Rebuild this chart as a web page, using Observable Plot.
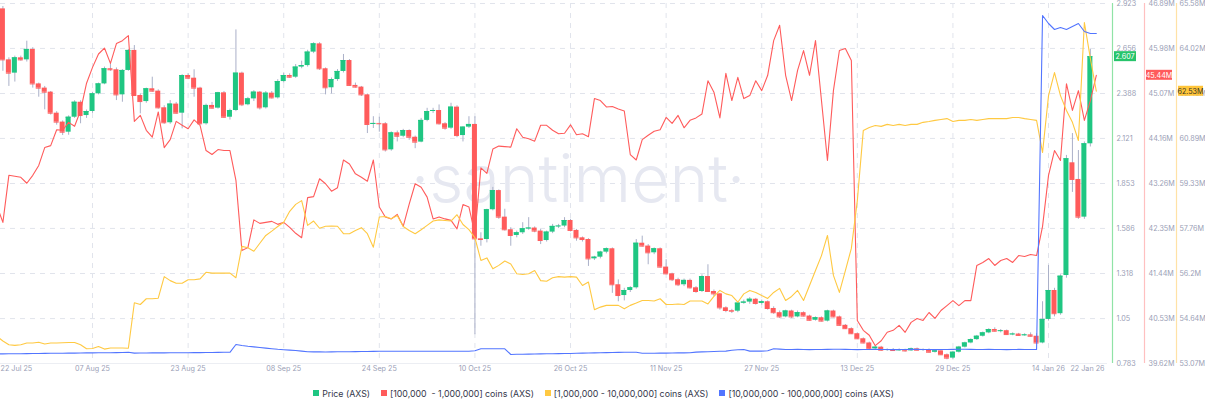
<!DOCTYPE html>
<html><head><meta charset="utf-8">
<script src="https://cdn.jsdelivr.net/npm/d3@7"></script>
<script src="https://cdn.jsdelivr.net/npm/@observablehq/plot@0.6"></script>
<style>
html,body{margin:0;padding:0;background:#fff;}
body{width:1205px;height:406px;overflow:hidden;font-family:Inter,"Noto Sans",sans-serif;}
#chart svg{display:block}
#legend{display:flex;justify-content:center;align-items:center;height:26px;font-size:8.8px;color:#34374a;padding-left:2px}
#legend .it{display:flex;align-items:center;margin:0 5.5px}
#legend .sw{display:inline-block;width:6px;height:6px;margin-right:3px}
</style></head><body>
<div id="chart"></div>
<div id="legend"></div>
<script>
// ---- data ----
const candleStartDate = "2025-07-23";   // first daily candle
const lineStartDate = "2025-07-22";     // first daily holder value

const open = [2.891,2.588,2.509,2.600,2.588,2.650,2.445,2.420,2.396,2.271,
2.218,2.158,2.247,2.336,2.257,2.281,2.386,2.445,2.535,2.529,
2.380,2.525,2.644,2.376,2.340,2.416,2.402,2.303,2.214,2.325,
2.271,2.495,2.479,2.420,2.208,2.317,2.301,2.392,2.247,2.287,
2.509,2.321,2.356,2.396,2.303,2.390,2.362,2.459,2.495,2.485,
2.545,2.554,2.634,2.683,2.535,2.422,2.471,2.519,2.584,2.436,
2.426,2.380,2.204,2.210,2.208,2.053,2.154,2.134,2.168,2.128,
2.099,2.228,2.281,2.287,2.208,2.182,2.307,2.138,2.188,2.204,
1.524,1.520,1.697,1.811,1.653,1.578,1.544,1.560,1.584,1.588,
1.570,1.514,1.564,1.598,1.600,1.633,1.574,1.530,1.520,1.405,
1.415,1.445,1.465,1.251,1.187,1.217,1.233,1.498,1.481,1.441,
1.465,1.356,1.316,1.281,1.251,1.277,1.233,1.211,1.300,1.211,
1.197,1.114,1.098,1.094,1.142,1.148,1.165,1.140,1.150,1.110,
1.085,1.060,1.095,1.060,1.085,1.065,1.040,1.055,1.035,1.095,
1.060,1.010,0.990,0.960,0.930,0.905,0.870,0.880,0.862,0.866,
0.860,0.864,0.858,0.870,0.862,0.866,0.850,0.858,0.835,0.815,
0.850,0.880,0.905,0.925,0.945,0.965,0.985,0.975,0.978,0.955,
0.958,0.950,0.953,0.945,0.905,1.045,1.217,1.079,1.306,1.976,
1.877,1.653,2.089];
const close = [2.588,2.509,2.600,2.588,2.650,2.445,2.420,2.396,2.271,2.218,
2.158,2.247,2.336,2.257,2.281,2.386,2.445,2.535,2.529,2.380,
2.525,2.644,2.376,2.340,2.416,2.402,2.303,2.214,2.325,2.271,
2.495,2.479,2.420,2.208,2.317,2.301,2.392,2.247,2.287,2.509,
2.321,2.356,2.396,2.303,2.390,2.362,2.459,2.495,2.485,2.545,
2.554,2.634,2.683,2.535,2.422,2.471,2.519,2.584,2.436,2.426,
2.380,2.204,2.210,2.208,2.053,2.154,2.134,2.168,2.128,2.099,
2.228,2.281,2.287,2.208,2.182,2.307,2.138,2.188,2.204,1.524,
1.520,1.697,1.811,1.653,1.578,1.544,1.560,1.584,1.588,1.570,
1.514,1.564,1.598,1.600,1.633,1.574,1.530,1.520,1.405,1.415,
1.445,1.465,1.251,1.187,1.217,1.233,1.498,1.481,1.441,1.465,
1.356,1.316,1.281,1.251,1.277,1.233,1.211,1.300,1.211,1.197,
1.114,1.098,1.094,1.142,1.148,1.165,1.140,1.150,1.110,1.085,
1.060,1.095,1.060,1.085,1.065,1.040,1.055,1.035,1.095,1.060,
1.010,0.990,0.960,0.930,0.905,0.870,0.880,0.862,0.866,0.860,
0.864,0.858,0.870,0.862,0.866,0.850,0.858,0.835,0.815,0.850,
0.880,0.905,0.925,0.945,0.965,0.985,0.975,0.978,0.955,0.958,
0.950,0.953,0.945,0.905,1.045,1.217,1.079,1.302,2.000,1.877,
1.653,2.089,2.607];
const high = [2.905,2.600,2.610,2.610,2.699,2.660,2.450,2.430,2.400,2.280,
2.225,2.255,2.345,2.345,2.290,2.395,2.450,2.545,2.568,2.540,
2.530,2.650,2.673,2.385,2.420,2.485,2.410,2.315,2.346,2.335,
2.500,2.505,2.529,2.425,2.325,2.335,2.395,2.400,2.295,2.766,
2.515,2.365,2.405,2.400,2.400,2.400,2.470,2.510,2.505,2.560,
2.580,2.645,2.690,2.690,2.540,2.480,2.530,2.620,2.590,2.450,
2.430,2.385,2.250,2.247,2.215,2.160,2.165,2.175,2.172,2.135,
2.240,2.300,2.300,2.320,2.215,2.330,2.315,2.190,2.250,2.250,
1.560,1.700,1.830,1.815,1.700,1.590,1.570,1.620,1.650,1.595,
1.580,1.570,1.610,1.610,1.650,1.640,1.580,1.535,1.525,1.420,
1.450,1.470,1.470,1.280,1.230,1.240,1.520,1.540,1.490,1.470,
1.470,1.400,1.320,1.290,1.285,1.285,1.240,1.310,1.370,1.220,
1.200,1.120,1.105,1.145,1.160,1.175,1.170,1.160,1.155,1.120,
1.095,1.100,1.100,1.095,1.090,1.070,1.060,1.060,1.100,1.100,
1.065,1.015,0.995,0.965,0.935,0.910,0.885,0.885,0.870,0.872,
0.870,0.868,0.875,0.875,0.870,0.870,0.862,0.862,0.840,0.855,
0.885,0.910,0.930,0.950,0.970,0.990,0.995,0.985,0.982,0.965,
0.962,0.960,0.965,0.960,1.150,1.366,1.230,1.310,2.020,2.150,
2.049,2.100,2.650];
const low = [2.520,2.430,2.456,2.580,2.575,2.420,2.366,2.291,2.260,2.200,
2.138,2.140,2.240,2.208,2.240,2.270,2.380,2.440,2.520,2.346,
2.336,2.520,2.370,2.267,2.330,2.395,2.295,2.205,2.205,2.265,
2.178,2.470,2.366,2.200,2.200,2.295,2.295,2.240,2.230,2.280,
2.310,2.315,2.340,2.290,2.296,2.355,2.355,2.450,2.478,2.478,
2.535,2.545,2.625,2.525,2.380,2.385,2.460,2.510,2.430,2.420,
2.370,2.150,2.180,2.158,2.040,2.045,2.100,2.125,2.110,2.060,
2.095,2.220,2.270,2.200,2.170,2.175,2.125,2.100,2.180,0.954,
1.480,1.500,1.690,1.640,1.570,1.480,1.530,1.550,1.575,1.560,
1.490,1.505,1.555,1.585,1.590,1.565,1.510,1.505,1.360,1.395,
1.405,1.435,1.200,1.150,1.155,1.205,1.225,1.475,1.370,1.430,
1.350,1.310,1.270,1.240,1.240,1.225,1.200,1.205,1.205,1.180,
1.100,1.085,1.080,1.085,1.135,1.135,1.130,1.130,1.100,1.075,
1.050,1.055,1.050,1.055,1.060,1.035,1.035,1.030,1.030,1.055,
1.005,0.985,0.955,0.925,0.900,0.860,0.865,0.855,0.855,0.855,
0.855,0.850,0.855,0.858,0.855,0.845,0.845,0.830,0.805,0.805,
0.845,0.875,0.900,0.920,0.940,0.960,0.970,0.965,0.950,0.948,
0.945,0.945,0.940,0.895,0.900,1.035,1.060,1.070,1.290,1.800,
1.640,1.640,2.070];

// [100,000 - 1,000,000] coins holders balance, millions AXS
const holders100k = [42.80,42.47,43.42,43.40,43.38,43.26,43.42,43.62,43.98,44.02,
44.34,44.33,44.49,44.41,44.73,45.28,45.60,45.87,45.99,45.68,
46.08,46.14,46.24,44.51,44.63,44.33,44.19,44.70,43.98,44.14,
44.51,44.43,44.36,44.54,44.43,43.92,43.84,43.94,43.92,43.92,
43.32,41.90,41.96,42.52,42.45,42.47,42.49,42.43,42.47,42.37,
42.25,42.16,42.97,42.99,43.35,43.25,43.10,43.17,43.73,43.65,
43.45,43.38,43.30,43.73,42.78,42.58,42.54,42.63,42.39,42.84,
43.25,43.18,42.98,42.54,42.58,42.54,42.51,42.34,42.83,42.78,
42.24,43.57,43.46,43.95,44.01,44.00,43.99,44.36,44.19,44.16,
44.11,44.43,44.43,44.33,44.26,44.27,44.44,44.24,44.26,44.20,
44.97,44.93,44.80,44.81,44.76,44.72,43.84,43.73,44.14,44.23,
44.31,44.34,44.59,44.47,44.63,44.38,44.53,44.58,44.66,45.33,
45.10,44.58,45.48,44.93,45.40,44.97,45.03,
45.33,45.13,45.44,46.14,46.45,45.44,44.93,45.54,45.94,45.44,
46.14,44.93,43.72,45.13,45.94,45.98,45.74,40.49,40.29,40.19,
39.98,40.08,40.25,40.29,40.39,40.25,40.45,40.53,40.49,40.65,
40.53,40.69,40.79,40.89,40.79,40.89,40.89,41.60,41.66,41.74,
41.60,41.70,41.74,41.66,41.80,41.78,41.82,41.80,42.39,43.42,
43.92,43.72,45.27,44.73,45.13,44.53,44.93,45.44];
// [1,000,000 - 10,000,000] coins holders balance, millions AXS
const holders1m = [54.01,53.85,53.72,53.70,53.72,53.78,53.78,53.81,53.75,53.78,
53.78,53.79,53.80,53.80,53.72,53.58,53.59,53.66,53.57,53.61,
53.61,53.61,53.60,55.18,55.12,55.32,55.32,55.34,56.09,55.95,
55.86,55.86,55.98,55.98,56.01,56.24,56.21,56.21,56.21,56.21,
56.05,57.14,57.09,56.97,57.25,57.52,57.67,57.83,57.98,58.36,
58.60,58.73,57.87,58.02,57.77,57.84,57.85,57.84,57.58,57.58,
57.69,57.79,57.58,57.11,58.16,58.18,58.10,58.21,57.83,57.69,
57.58,57.72,57.87,58.02,58.06,58.04,58.02,58.24,57.90,57.72,
57.44,56.65,56.74,56.36,56.48,56.63,56.53,56.19,56.16,56.19,
56.30,55.95,55.93,56.05,56.09,56.07,56.09,56.07,55.78,55.90,
54.94,55.03,55.09,55.09,55.09,54.97,55.09,55.17,55.26,55.26,
55.24,55.32,55.12,55.12,55.14,55.12,55.24,55.24,55.24,55.14,
55.40,55.61,55.49,55.43,55.20,55.49,55.61,
55.54,55.43,55.33,55.54,55.68,55.26,55.40,55.61,55.26,55.78,
56.30,56.82,57.52,56.13,55.54,56.30,57.07,58.73,61.17,61.27,
61.34,61.31,61.38,61.34,61.38,61.34,61.38,61.38,61.45,61.48,
61.52,61.55,61.58,61.48,61.52,61.52,61.55,61.52,61.55,61.58,
61.58,61.58,61.58,61.62,61.62,61.58,61.55,61.52,60.40,62.38,
63.18,62.38,61.86,61.45,60.82,64.92,63.67,62.53];
// [10,000,000 - 100,000,000] coins holders balance, millions AXS (no axis shown)
const holders10m = [30.40,30.40,30.42,30.45,30.45,30.48,30.50,30.50,30.52,30.55,
30.55,30.58,30.60,30.60,30.62,30.65,30.65,30.68,30.70,30.70,
30.72,30.75,30.80,30.60,30.62,30.62,30.65,30.65,30.65,30.68,
30.68,30.70,30.70,30.72,30.72,30.75,30.75,30.78,30.80,30.80,
32.75,32.50,32.30,32.15,32.00,31.85,31.70,31.55,31.45,31.35,
31.25,31.10,30.95,30.90,30.90,30.88,30.90,30.92,30.95,30.95,
30.98,31.00,31.00,31.02,31.05,31.08,31.08,31.08,31.08,31.08,
31.08,31.08,31.08,31.08,31.08,31.08,31.08,31.08,31.08,31.08,
31.20,31.67,31.67,31.67,31.67,31.67,30.25,30.30,30.32,30.35,
30.38,30.40,30.42,30.45,30.48,30.50,30.50,30.55,30.60,30.62,
30.65,30.70,30.72,30.75,30.78,30.80,30.83,30.83,30.55,30.55,
30.58,30.60,30.60,30.62,30.65,30.65,30.70,30.85,30.90,30.95,
31.00,31.05,31.10,31.30,31.45,31.50,31.10,
31.10,31.10,31.20,31.70,31.60,31.50,31.50,31.52,31.50,31.48,
31.50,31.50,31.52,31.55,31.55,31.52,31.50,31.48,31.50,31.50,
31.52,31.50,31.50,31.48,31.50,31.50,31.52,31.52,31.50,31.50,
31.48,31.50,31.50,31.52,31.55,31.55,31.52,31.50,31.50,31.52,
31.50,31.50,31.48,31.50,31.52,31.50,31.50,31.50,115.0,113.0,
111.5,112.0,111.5,112.25,113.0,111.0,110.5,110.5];

const priceTicks = [2.923,2.656,2.388,2.121,1.853,1.586,1.318,1.05,0.783];
const holders100kTicks = [46.89,45.98,45.07,44.16,43.26,42.35,41.44,40.53,39.62];
const holders1mTicks = [65.58,64.02,62.45,60.89,59.33,57.76,56.2,54.64,53.07];
const holders10mDomain = [28, 118];
const dateTicks = ["2025-08-07","2025-08-23","2025-09-08","2025-09-24","2025-10-10","2025-10-26","2025-11-11","2025-11-27","2025-12-13","2025-12-29","2026-01-14"];
const edgeLabels = ["22 Jul 25","22 Jan 26"];
const seriesNames = ["Price (AXS)","[100,000  - 1,000,000] coins (AXS)","[1,000,000 - 10,000,000] coins (AXS)","[10,000,000 - 100,000,000] coins (AXS)"];

// ---- styling ----
const GREEN = "#1fc682", RED = "#ff5b5b", YELLOW = "#ffc942", BLUE = "#5275ff";
const WICK = "#aab0c8", LABEL = "#9aa0b6", GRID = "#e1e4ec";
const FS = 7.2;
const DAY = 864e5;

const parse = s => new Date(s + "T00:00:00Z");
const c0 = +parse(candleStartDate), l0 = +parse(lineStartDate);
const candles = open.map((o, i) => ({date: new Date(c0 + i * DAY), o, h: high[i], l: low[i], c: close[i]}));
const series = arr => arr.map((v, i) => ({date: new Date(l0 + i * DAY), v}));

const pDom = [priceTicks[priceTicks.length - 1], priceTicks[0]];
const toPrice = (d0, d1) => v => pDom[0] + (v - d0) / (d1 - d0) * (pDom[1] - pDom[0]);
const redY = toPrice(holders100kTicks[8], holders100kTicks[0]);
const yelY = toPrice(holders1mTicks[8], holders1mTicks[0]);
const bluY = toPrice(holders10mDomain[0], holders10mDomain[1]);

const xDomain = [new Date(Date.UTC(2025, 6, 22, 14, 21)), new Date(Date.UTC(2026, 0, 23, 20, 53))];
const xEnd = xDomain[1];
const half = 0.42 * DAY;
const x1 = d => new Date(+d.date - half), x2 = d => new Date(+d.date + half);
const up = candles.filter(d => d.c >= d.o), down = candles.filter(d => d.c < d.o);
const fmtNum = v => String(+v.toFixed(3));
const fmtM = v => String(+v.toFixed(2)) + "M";
const boxH = 5 * (pDom[1] - pDom[0]) / 360;

const lastPrice = close[close.length - 1];
const lastRed = holders100k[holders100k.length - 1];
const lastYel = holders1m[holders1m.length - 1];

const chart = Plot.plot({
  width: 1205, height: 380,
  marginLeft: 0, marginRight: 98, marginTop: 3, marginBottom: 17,
  x: {type: "utc", domain: xDomain, axis: null},
  y: {domain: pDom, axis: null},
  style: {fontFamily: "Inter, 'Noto Sans', sans-serif", fontSize: "7px", background: "transparent", overflow: "visible"},
  marks: [
    Plot.gridY(priceTicks, {stroke: GRID, strokeOpacity: 1, strokeDasharray: "5,5"}),
    Plot.gridX(dateTicks.map(parse), {stroke: GRID, strokeOpacity: 1, strokeDasharray: "5,5"}),
    Plot.ruleY([pDom[0]], {stroke: "#eceef3"}),
    Plot.text(["·santiment·"], {frameAnchor: "middle", dx: 24, dy: -3, fontSize: 66, fill: "#e6e8f1", fontWeight: 300}),
    // candles
    Plot.ruleX(candles, {x: "date", y1: "l", y2: "h", stroke: WICK, strokeWidth: 1}),
    Plot.rect(up, {x1, x2, y1: "o", y2: "c", fill: GREEN}),
    Plot.rect(down, {x1, x2, y1: "o", y2: "c", fill: RED}),
    Plot.ruleY(up, {x1, x2, y: "c", stroke: GREEN}),
    Plot.ruleY(down, {x1, x2, y: "c", stroke: RED}),
    // holder lines
    Plot.line(series(holders100k), {x: "date", y: d => redY(d.v), stroke: RED, strokeWidth: 1.1, clip: true}),
    Plot.line(series(holders1m), {x: "date", y: d => yelY(d.v), stroke: YELLOW, strokeWidth: 1.1, clip: true}),
    Plot.line(series(holders10m), {x: "date", y: d => bluY(d.v), stroke: BLUE, strokeWidth: 1.1, clip: true}),
    // x labels
    Plot.text(dateTicks.map(parse), {x: d => d, frameAnchor: "bottom", dy: 7, text: d3.utcFormat("%d %b %y"), fill: LABEL, fontSize: FS}),
    Plot.text([edgeLabels[0]], {frameAnchor: "bottom-left", dy: 7, textAnchor: "start", fill: LABEL, fontSize: FS}),
    Plot.text([edgeLabels[1]], {frameAnchor: "bottom-right", dy: 7, dx: -3, textAnchor: "end", fill: LABEL, fontSize: FS}),
    // right axes
    Plot.ruleX([xEnd], {dx: 5, stroke: "#90e3a6", strokeWidth: 1.2}),
    Plot.ruleX([xEnd], {dx: 37, stroke: "#ffc0c0", strokeWidth: 1.2}),
    Plot.ruleX([xEnd], {dx: 69, stroke: "#ffe2a6", strokeWidth: 1.2}),
    Plot.text(priceTicks, {frameAnchor: "right", y: d => d, text: fmtNum, dx: 9, textAnchor: "start", fill: LABEL, fontSize: FS}),
    Plot.text(holders100kTicks, {frameAnchor: "right", y: d => redY(d), text: fmtM, dx: 41, textAnchor: "start", fill: LABEL, fontSize: FS}),
    Plot.text(holders1mTicks, {frameAnchor: "right", y: d => yelY(d), text: fmtM, dx: 72, textAnchor: "start", fill: LABEL, fontSize: FS}),
    // last value boxes
    Plot.ruleX([lastPrice], {x: () => xEnd, y1: d => d - boxH, y2: d => d + boxH, dx: 17.5, stroke: "#27c46b", strokeWidth: 22}),
    Plot.text([lastPrice], {frameAnchor: "right", y: d => d, text: d => d.toFixed(3), dx: 17.5, textAnchor: "middle", fill: "white", fontSize: FS}),
    Plot.ruleX([lastRed], {x: () => xEnd, y1: d => redY(d) - boxH, y2: d => redY(d) + boxH, dx: 51.5, stroke: RED, strokeWidth: 26}),
    Plot.text([lastRed], {frameAnchor: "right", y: d => redY(d), text: fmtM, dx: 51.5, textAnchor: "middle", fill: "white", fontSize: FS}),
    Plot.ruleX([lastYel], {x: () => xEnd, y1: d => yelY(d) - boxH, y2: d => yelY(d) + boxH, dx: 83, stroke: "#ffc53a", strokeWidth: 25}),
    Plot.text([lastYel], {frameAnchor: "right", y: d => yelY(d), text: fmtM, dx: 83, textAnchor: "middle", fill: "#3a3526", fontSize: FS})
  ]
});
document.getElementById("chart").appendChild(chart);

const colors = [GREEN, RED, YELLOW, BLUE];
const legend = document.getElementById("legend");
seriesNames.forEach((name, i) => {
  const it = document.createElement("div");
  it.className = "it";
  it.innerHTML = `<span class="sw" style="background:${colors[i]}"></span><span style="white-space:pre">${name}</span>`;
  legend.appendChild(it);
});
</script></body></html>
